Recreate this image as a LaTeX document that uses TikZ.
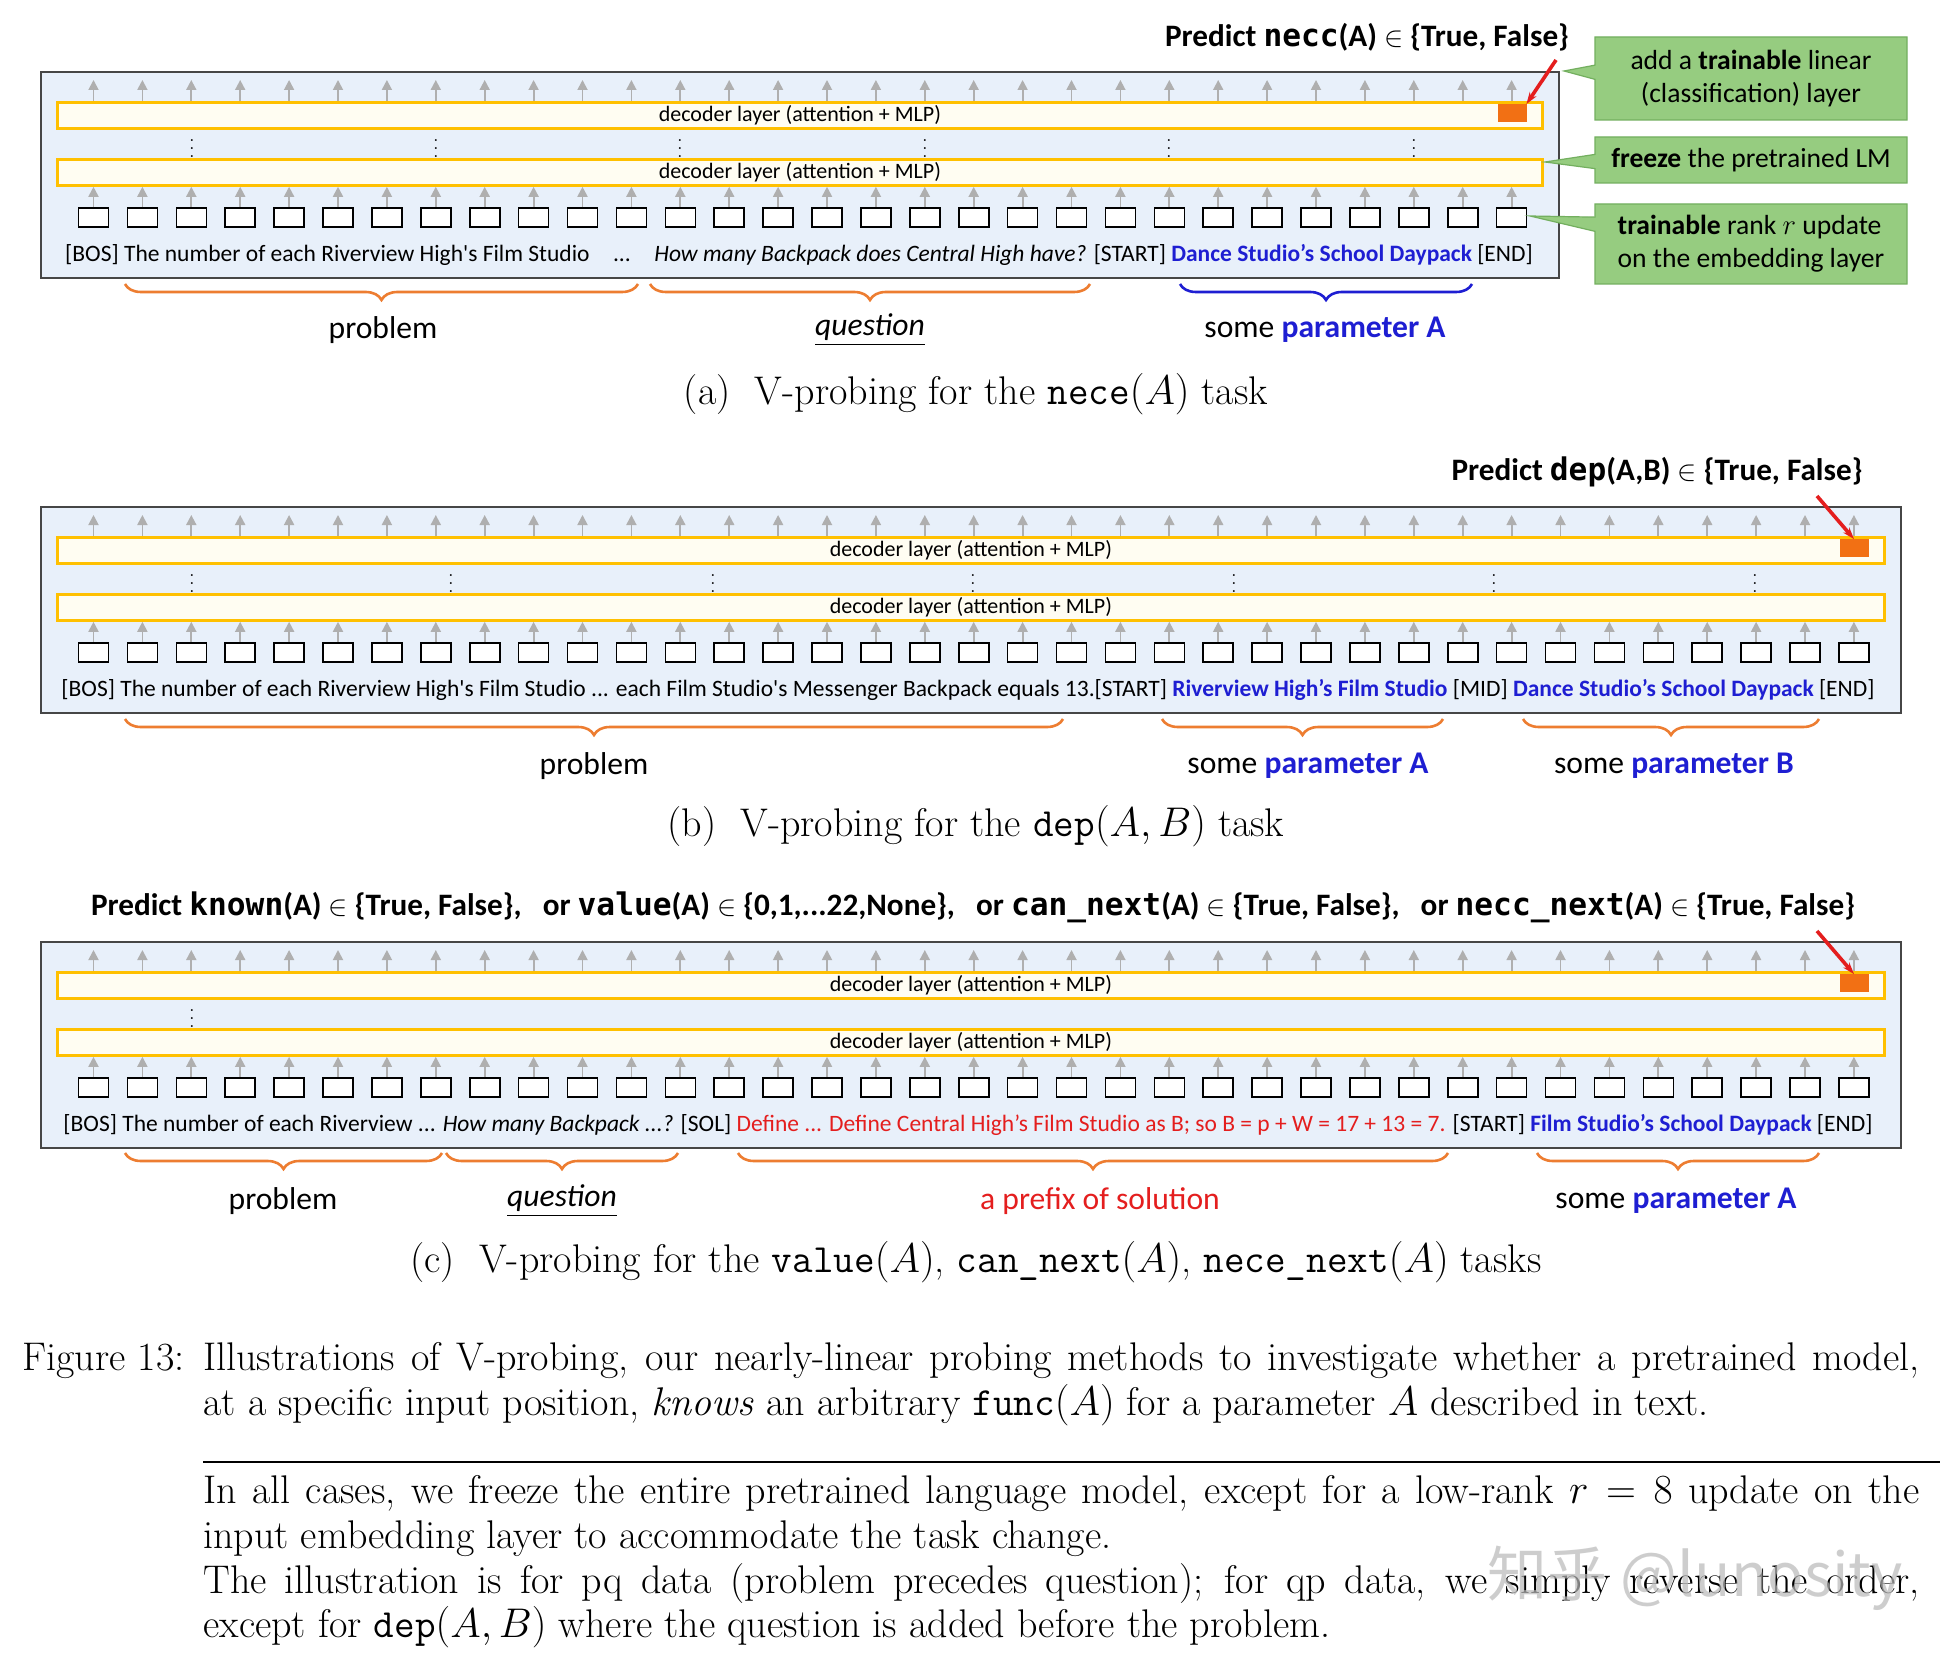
\documentclass[tikz,border=0pt]{standalone}
\usepackage{fontspec}
\usepackage{amsmath}
\usetikzlibrary{arrows.meta,decorations.pathreplacing,shapes.callouts}
\newfontfamily\dfont{Carlito}
\newfontfamily\codefont{DejaVu Sans Mono}
\newfontfamily\cjkfont{Noto Sans CJK SC}
\definecolor{panelfill}{RGB}{232,240,250}
\definecolor{panelborder}{RGB}{70,70,70}
\definecolor{layerfill}{RGB}{255,253,242}
\definecolor{layerdraw}{RGB}{255,192,0}
\definecolor{arrowgray}{RGB}{175,175,175}
\definecolor{gfill}{RGB}{150,204,128}
\definecolor{gdraw}{RGB}{115,175,95}
\definecolor{obrace}{RGB}{237,125,49}
\definecolor{bluetxt}{RGB}{30,30,210}
\definecolor{redtxt}{RGB}{228,30,30}
\definecolor{sqfill}{RGB}{242,112,20}
\tikzset{
  panelbox/.style={draw=panelborder,fill=panelfill,line width=1pt,anchor=north west,inner sep=0pt},
  layerbox/.style={draw=layerdraw,fill=layerfill,line width=1.4pt,anchor=north west,inner sep=0pt,minimum height=13pt,font=\dfont\fontsize{11}{12}\selectfont},
  tok/.style={draw=black,fill=white,line width=0.8pt,minimum width=15pt,minimum height=9.5pt,inner sep=0pt},
  uparr/.style={draw=arrowgray,line width=0.9pt,-{Triangle[width=5pt,length=5pt]}},
  rowtxt/.style={inner sep=0pt,font=\dfont\fontsize{11.75}{13}\selectfont},
  lbl/.style={inner sep=0pt,font=\dfont\fontsize{15.8}{18}\selectfont},
  predtxt/.style={inner sep=0pt,font=\dfont\bfseries\fontsize{15.6}{18}\selectfont},
  gbox/.style={rectangle callout,fill=gfill,draw=gdraw,line width=0.6pt,minimum width=156pt,inner sep=4pt,font=\dfont\fontsize{13.8}{16.5}\selectfont},
  brc/.style={decorate,decoration={brace,mirror,amplitude=8pt},line width=1.3pt},
  capt/.style={inner sep=0pt,font=\fontsize{20}{23}\selectfont},
  sq/.style={fill=sqfill,draw=sqfill,minimum width=14pt,minimum height=8.5pt,inner sep=0pt},
  redarr/.style={draw=redtxt,line width=1.8pt,-{Stealth[length=6pt,width=4pt]}},
  vd/.style={inner sep=0pt,font=\fontsize{9}{9}\selectfont}
}
\newcommand\mypanel[5]{% prefix, yoffset, box right, ntokens, row text center
  \begin{scope}[shift={(0,#2)}]
    \node[panelbox,minimum width={(#3-40)*0.5pt},minimum height=103pt] (#1box) at (40,71) {};
    \node[layerbox,minimum width={(#3-73)*0.5pt}] (#1L2) at (56,101) {decoder layer (attention + MLP)};
    \node[layerbox,minimum width={(#3-73)*0.5pt}] (#1L1) at (56,158) {decoder layer (attention + MLP)};
    \foreach \i in {1,...,#4}{
      \node[tok] (#1t\i) at ({93.5+48.9*(\i-1)},217.5) {};
      \draw[uparr] (#1t\i.north) -- (#1t\i.north |- #1L1.south);
      \coordinate (#1top\i) at ({93.5+48.9*(\i-1)},80);
      \draw[uparr] (#1t\i.north |- #1L2.north) -- (#1top\i);
    }
  \end{scope}
}
\begin{document}
\begin{tikzpicture}[x=0.5pt,y=-0.5pt]
\useasboundingbox (0,0) rectangle (1954,1658);
\fill[white] (0,0) rectangle (1954,1658);

% ---------------- panel (a)
\mypanel{a}{0}{1558}{30}{799}
\foreach \x in {192,436,680,925,1169,1414}{\node[vd] at (\x,143) {$\vdots$};}
\node[sq] (asq) at (1512,113) {};
\coordinate (ared) at (1556,60);
\draw[redarr] (ared) -- (asq.north east);
\node[rowtxt] (arow) at (799,255) {[BOS] The number of each Riverview High's Film Studio\quad ...\quad \textit{How many Backpack does Central High have?} [START] \textcolor{bluetxt}{\textbf{Dance Studio’s School Daypack}} [END]};
\node[predtxt] (apred) at (1367,37) {Predict {\codefont necc}(A) $\in$ \{True, False\}};
\draw[brc,obrace] (125,284) -- (638,284);
\draw[brc,obrace] (650,284) -- (1090,284);
\draw[brc,bluetxt] (1180,284) -- (1472,284);
\node[lbl] (aprob) at (383,330) {problem};
\node[lbl] (aques) at (870,330) {\underline{\textit{question}}};
\node[lbl] (apar) at (1325,330) {some \textcolor{bluetxt}{\textbf{parameter A}}};
\node[capt] (acap) at (976,394) {(a)\ \ V-probing for the \texttt{nece}$(A)$ task};
% green callouts
\node[gbox,align=center,minimum height=41.5pt,callout absolute pointer={(1564,71)}] (g1) at (1751,78.5) {add a \textbf{trainable} linear\\(classification) layer};
\node[gbox,align=left,minimum height=23pt,callout absolute pointer={(1545,162)}] (g2) at (1751,160) {\textbf{freeze} the pretrained LM};
\node[gbox,align=left,minimum height=40pt,callout absolute pointer={(1530,216)}] (g3) at (1751,244) {\textbf{trainable} rank $r$ update\\on the embedding layer};

% ---------------- panel (b)
\mypanel{b}{435}{1900}{37}{968}
\foreach \x in {192,451,713,973,1234,1494,1755}{\node[vd] at (\x,578) {$\vdots$};}
\node[sq] (bsq) at (1854,548) {};
\coordinate (bred) at (1817,496);
\draw[redarr] (bred) -- (bsq.north);
\node[rowtxt] (brow) at (968,690) {[BOS] The number of each Riverview High's Film Studio ... each Film Studio's Messenger Backpack equals 13.[START] \textcolor{bluetxt}{\textbf{Riverview High’s Film Studio}} [MID] \textcolor{bluetxt}{\textbf{Dance Studio’s School Daypack}} [END]};
\node[predtxt] (bpred) at (1657,472) {Predict {\codefont dep}(A,B) $\in$ \{True, False\}};
\draw[brc,obrace] (125,719) -- (1063,719);
\draw[brc,obrace] (1162,719) -- (1443,719);
\draw[brc,obrace] (1523,719) -- (1819,719);
\node[lbl] (bprob) at (594,766) {problem};
\node[lbl] (bparA) at (1308,766) {some \textcolor{bluetxt}{\textbf{parameter A}}};
\node[lbl] (bparB) at (1674,766) {some \textcolor{bluetxt}{\textbf{parameter B}}};
\node[capt] (bcap) at (976,826) {(b)\ \ V-probing for the \texttt{dep}$(A,B)$ task};

% ---------------- panel (c)
\mypanel{c}{870}{1900}{37}{968}
\node[vd] at (192,1013) {$\vdots$};
\node[sq] (csq) at (1854,983) {};
\coordinate (cred) at (1817,931);
\draw[redarr] (cred) -- (csq.north);
\node[rowtxt] (crow) at (968,1125) {[BOS] The number of each Riverview ... \textit{How many Backpack ...?} [SOL] \textcolor{redtxt}{Define ... Define Central High’s Film Studio as B; so B = p + W = 17 + 13 = 7.} [START] \textcolor{bluetxt}{\textbf{Film Studio’s School Daypack}} [END]};
\node[predtxt] (cpred) at (973,907) {Predict {\codefont known}(A) $\in$ \{True, False\},\ \ \ or {\codefont value}(A) $\in$ \{0,1,...22,None\},\ \ \ or {\codefont can\_next}(A) $\in$ \{True, False\},\ \ \ or {\codefont necc\_next}(A) $\in$ \{True, False\}};
\draw[brc,obrace] (125,1153) -- (442,1153);
\draw[brc,obrace] (446,1153) -- (678,1153);
\draw[brc,obrace] (738,1153) -- (1448,1153);
\draw[brc,obrace] (1537,1153) -- (1819,1153);
\node[lbl] (cprob) at (283,1201) {problem};
\node[lbl] (cques) at (562,1201) {\underline{\textit{question}}};
\node[lbl] (cpre) at (1100,1201) {\textcolor{redtxt}{a prefix of solution}};
\node[lbl] (cpar) at (1676,1201) {some \textcolor{bluetxt}{\textbf{parameter A}}};
\node[capt] (ccap) at (976,1262) {(c)\ \ V-probing for the \texttt{value}$(A)$, \texttt{can\_next}$(A)$, \texttt{nece\_next}$(A)$ tasks};

% ---------------- figure caption
\node[capt,anchor=base west] (fig) at (22,1370) {Figure 13:};
\node[capt,anchor=base west] (l1) at (203,1370) {\hbox to 858pt{Illustrations of V-probing, our nearly-linear probing methods to investigate whether a pretrained model,}};
\node[capt,anchor=base west] (l2) at (203,1415) {at a specific input position, \textit{knows} an arbitrary \texttt{func}$(A)$ for a parameter $A$ described in text.};
\draw[line width=0.6pt] (203,1462) -- (1940,1462);
\node[capt,anchor=base west] (p1) at (203,1503) {\hbox to 858pt{In all cases, we freeze the entire pretrained language model, except for a low-rank $r=8$ update on the}};
\node[capt,anchor=base west] (p2) at (203,1548) {input embedding layer to accommodate the task change.};
\node[capt,anchor=base west] (p3) at (203,1593) {\hbox to 858pt{The illustration is for pq data (problem precedes question); for qp data, we simply reverse the order,}};
\node[capt,anchor=base west] (p4) at (203,1637) {except for \texttt{dep}$(A,B)$ where the question is added before the problem.};
\node[inner sep=0pt,text=gray!55,opacity=0.7,font=\cjkfont\fontsize{30}{32}\selectfont] (wm) at (1695,1578) {知乎 @lunosity};
\end{tikzpicture}
\end{document}
